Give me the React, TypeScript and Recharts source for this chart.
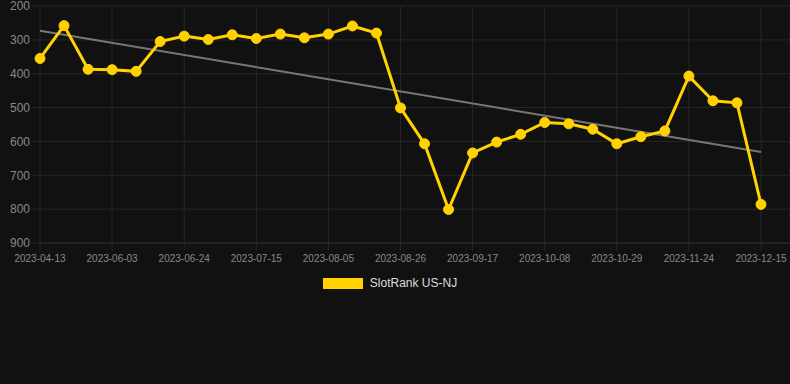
import React from "react";
import {
  LineChart,
  Line,
  XAxis,
  YAxis,
  CartesianGrid,
  Legend,
} from "recharts";

const dates: string[] = [
  "2023-04-13", "2023-05-13", "2023-05-27", "2023-06-03", "2023-06-10",
  "2023-06-17", "2023-06-24", "2023-07-01", "2023-07-08", "2023-07-15",
  "2023-07-22", "2023-07-29", "2023-08-05", "2023-08-12", "2023-08-19",
  "2023-08-26", "2023-09-02", "2023-09-09", "2023-09-17", "2023-09-24",
  "2023-10-01", "2023-10-08", "2023-10-15", "2023-10-22", "2023-10-29",
  "2023-11-05", "2023-11-12", "2023-11-24", "2023-12-01", "2023-12-08",
  "2023-12-15",
];

const ranks: number[] = [
  355, 258, 387, 388, 393, 305, 289, 299, 285, 296,
  283, 294, 283, 259, 280, 501, 607, 801, 634, 602,
  579, 544, 548, 564, 607, 586, 569, 407, 480, 486,
  786,
];

const tickDates: string[] = [
  "2023-04-13", "2023-06-03", "2023-06-24", "2023-07-15", "2023-08-05",
  "2023-08-26", "2023-09-17", "2023-10-08", "2023-10-29", "2023-11-24",
  "2023-12-15",
];

const yTicks: number[] = [200, 300, 400, 500, 600, 700, 800, 900];

// trend line end values
const trendStart = 273;
const trendEnd = 631;

const seriesName = "SlotRank US-NJ";

const rows = dates.map((date, i) => ({
  date,
  rank: ranks[i],
  trend: i === 0 ? trendStart : i === dates.length - 1 ? trendEnd : null,
}));

const GRID = "#262626";
const YELLOW = "#FFD200";

const LegendBox = () => (
  <div
    style={{
      display: "flex",
      justifyContent: "center",
      alignItems: "center",
      height: 30,
      paddingRight: 10,
    }}
  >
    <span
      style={{
        display: "inline-block",
        width: 40,
        height: 11,
        background: YELLOW,
        marginRight: 7,
      }}
    />
    <span style={{ color: "#dddddd", fontSize: 12 }}>{seriesName}</span>
  </div>
);

const App: React.FC = () => {
  return (
    <div
      style={{
        position: "absolute",
        left: 0,
        top: 0,
        width: 790,
        height: 384,
        background: "#111111",
        fontFamily: "'Liberation Sans', Arial, sans-serif",
      }}
    >
      <LineChart
        width={790}
        height={384}
        data={rows}
        margin={{ top: 6, right: 0, left: 0, bottom: 86 }}
      >
        <CartesianGrid stroke={GRID} />
        <XAxis
          dataKey="date"
          ticks={tickDates}
          interval={0}
          padding={{ left: 0, right: 29 }}
          height={25}
          tickSize={8}
          tickMargin={4}
          axisLine={{ stroke: "#2c2c2c" }}
          tickLine={{ stroke: GRID }}
          tick={{ fill: "#888888", fontSize: 10 }}
        />
        <YAxis
          reversed
          domain={[200, 900]}
          ticks={yTicks}
          interval={0}
          width={40}
          tickSize={8}
          tickMargin={2}
          axisLine={false}
          tickLine={{ stroke: GRID }}
          tick={{ fill: "#888888", fontSize: 12 }}
        />
        <Legend verticalAlign="bottom" height={30} content={() => <LegendBox />} />
        <Line
          dataKey="trend"
          stroke="#777777"
          strokeWidth={2}
          dot={false}
          connectNulls
          legendType="none"
          isAnimationActive={false}
        />
        <Line
          dataKey="rank"
          name={seriesName}
          stroke={YELLOW}
          strokeWidth={3}
          dot={{ r: 5, fill: YELLOW, stroke: YELLOW, strokeWidth: 1 }}
          activeDot={false}
          isAnimationActive={false}
        />
      </LineChart>
    </div>
  );
};

export default App;
